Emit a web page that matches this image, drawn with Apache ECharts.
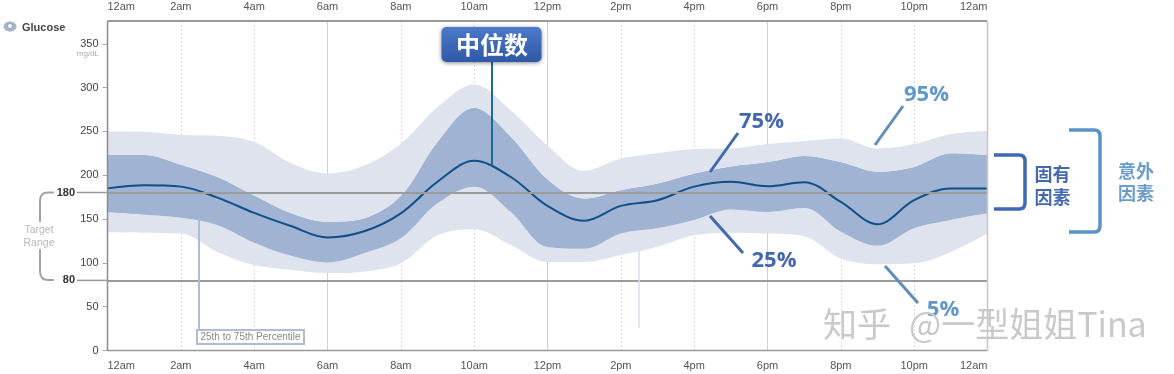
<!DOCTYPE html>
<html>
<head>
<meta charset="utf-8">
<style>
  html, body { margin: 0; padding: 0; background: #fff; }
  #chart { width: 1174px; height: 374px; }
</style>
<script src="https://cdn.jsdelivr.net/npm/echarts@6/dist/echarts.min.js"></script>
</head>
<body>
<div id="chart"></div>
<script>
var hours = [0,1,2,3,4,5,6,7,8,9,10,11,12,13,14,15,16,17,18,19,20,21,22,23,24];
var p95 = [250,249.5,246,245,238,214,202,211,236,277.5,303.5,274,234,205,219,225,230,230.5,235.5,239,242,230.5,235.5,247,250.5];
var p75 = [223,223,212,198,177,157,147,151,176.5,238,277,244,195.5,173.5,183,190.5,202,210,215,222,215,204,209.5,225,223];
var median = [185,188.5,187,174.5,157,142,129,136,156.5,192.5,216.5,198,165,148,165,171.5,187,192.5,187.5,192,169.5,144,171.5,185,185];
var p25 = [157.5,155,151.5,143,123,108,100.5,111,128,168,187,158,118,116,133.5,139.5,149,161,158,162.5,135.5,119.5,139.5,149,156.5];
var p5 = [135,134.5,133.5,112.5,97.5,92,88.5,90,99.5,131.5,138.5,120.5,101,101,109,118.5,131.5,134.5,133.5,130.5,105,98.5,99.5,112.5,133.5];

var xTicks = [0,2,4,6,8,10,12,14,16,18,20,22,24];
var xTickLabels = ['12am','2am','4am','6am','8am','10am','12pm','2pm','4pm','6pm','8pm','10pm','12am'];
var yTicks = [0,50,100,150,200,250,300,350];
var dottedHours = [2,4,8,10,14,16,20,22];
var solidHours = [6,12,18];
var targets = [180,80];

var LIGHT = '#dfe3ee', MID = '#a1b3d3', DARK = '#0f4f88';
var BLUE = '#4468b0', SKY = '#5f97cb';

var myChart = echarts.init(document.getElementById('chart'));

function diff(top, bottom) {
  return top.map(function (v, i) { return v - bottom[i]; });
}
function band(name, data, color) {
  return {
    name: name, type: 'line', stack: 'range', data: data, z: 2,
    smooth: 0.35, symbol: 'none', silent: true,
    lineStyle: { width: 0 },
    areaStyle: { color: color, opacity: 1 }
  };
}
function xAxis(pos) {
  return {
    type: 'category', position: pos, data: hours, boundaryGap: false,
    axisLine: { show: false },
    axisTick: { show: false },
    splitLine: { show: false },
    axisLabel: {
      interval: 1, showMinLabel: true, showMaxLabel: true,
      color: '#555', fontSize: 11, margin: pos == 'top' ? 9 : 10,
      fontFamily: 'Liberation Sans', alignMinLabel: 'left', alignMaxLabel: 'right',
      formatter: function (h) { return xTickLabels[xTicks.indexOf(Number(h))]; }
    }
  };
}
function line(x1, y1, x2, y2, color, width) {
  return { type: 'line', z: 10, silent: true, shape: { x1: x1, y1: y1, x2: x2, y2: y2 },
    style: { stroke: color, lineWidth: width } };
}
function curve(x1, y1, cx, cy, x2, y2, color, width) {
  return { type: 'bezierCurve', z: 10, silent: true,
    shape: { x1: x1, y1: y1, cpx1: cx, cpy1: cy, x2: x2, y2: y2 },
    style: { stroke: color, lineWidth: width, fill: null } };
}
function text(str, x, y, size, color, weight, align, family) {
  return { type: 'text', z: 11, silent: true, x: x, y: y,
    style: { text: str, fontSize: size, fill: color, fontWeight: weight || 'normal',
      align: align || 'center', verticalAlign: 'middle',
      fontFamily: family || 'Liberation Sans' } };
}
// square bracket opening to the left, rounded on the right side
function bracket(x1, x2, top, bottom, color, width) {
  var r = 6;
  return [
    line(x1, top, x2 - r, top, color, width),
    curve(x2 - r, top, x2, top, x2, top + r, color, width),
    line(x2, top + r, x2, bottom - r, color, width),
    curve(x2, bottom - r, x2, bottom, x2 - r, bottom, color, width),
    line(x2 - r, bottom, x1, bottom, color, width)
  ];
}

var option = {
  animation: false,
  backgroundColor: '#fff',
  grid: { left: 107.5, right: 186.5, top: 21, bottom: 23.5 },
  xAxis: [xAxis('bottom'), xAxis('top')],
  yAxis: {
    type: 'value', min: 0, max: 376,
    axisLine: { show: false },
    splitLine: { show: false },
    axisTick: { show: true, customValues: yTicks, length: 5, inside: false, lineStyle: { color: '#aaa' } },
    axisLabel: { customValues: yTicks, color: '#444', fontSize: 11, margin: 9, fontFamily: 'Liberation Sans' }
  },
  series: [
    {
      name: 'base', type: 'line', stack: 'range', data: p5, z: 1,
      smooth: 0.35, symbol: 'none', silent: true, lineStyle: { width: 0 },
      markLine: {
        silent: true, symbol: 'none', z: 1, animation: false, label: { show: false },
        data: dottedHours.map(function (h) {
          return { xAxis: h, lineStyle: { color: '#b4b4b4', type: [1, 3], width: 1 } };
        }).concat(solidHours.map(function (h) {
          return { xAxis: h, lineStyle: { color: '#d0d0d0', type: 'solid', width: 1 } };
        }))
      }
    },
    band('5-25', diff(p25, p5), LIGHT),
    band('25-75', diff(p75, p25), MID),
    band('75-95', diff(p95, p75), LIGHT),
    {
      name: 'median', type: 'line', data: median, z: 3,
      smooth: 0.35, symbol: 'none', silent: true,
      lineStyle: { color: DARK, width: 2 },
      markLine: {
        silent: true, symbol: 'none', z: 4, animation: false, label: { show: false },
        lineStyle: { color: '#9b9b9b', type: 'solid', width: 2 },
        data: targets.map(function (v) { return { yAxis: v }; })
      }
    }
  ],
  graphic: [
    // plot frame
    line(107.5, 21, 987, 21, '#999', 2),
    line(107.5, 21, 107.5, 351, '#8c8c8c', 1.5),
    line(107, 350.5, 987, 350.5, '#999', 1.5),
    line(987.5, 21, 987.5, 351, '#c6c6c6', 1.5),
    line(639, 248, 639, 328, '#d9deea', 1.5),

    // header on the left
    { type: 'ellipse', z: 10, silent: true, shape: { cx: 10, cy: 26.5, rx: 6.5, ry: 5 }, style: { fill: '#a8b6cd' } },
    { type: 'circle', z: 11, silent: true, shape: { cx: 10, cy: 26, r: 2.5 }, style: { fill: '#fff', stroke: '#8fa1bd', lineWidth: 1 } },
    text('Glucose', 22, 28, 11, '#444', 'bold', 'left'),
    text('mg/dL', 99, 54, 8, '#aaa', 'normal', 'right'),

    // target range
    line(77, 192.5, 108, 192.5, '#9b9b9b', 1.5),
    line(77, 280.4, 108, 280.4, '#9b9b9b', 1.5),
    text('180', 75, 192.5, 11, '#333', 'bold', 'right'),
    text('80', 75, 280.4, 11, '#333', 'bold', 'right'),
    line(54, 192.5, 48, 192.5, '#a3a3a3', 2),
    curve(48, 192.5, 40, 192.5, 40, 201, '#a3a3a3', 2),
    line(40, 201, 40, 222, '#a3a3a3', 2),
    line(54, 280, 48, 280, '#a3a3a3', 2),
    curve(48, 280, 40, 280, 40, 271, '#a3a3a3', 2),
    line(40, 271, 40, 249, '#a3a3a3', 2),
    text('Target', 39, 230, 10.5, '#b8b8b8'),
    text('Range', 39, 243, 10.5, '#b8b8b8'),

    // percentile box
    line(199, 218, 199, 330, '#aebdd6', 2),
    { type: 'rect', z: 10, silent: true, shape: { x: 197, y: 330, width: 107, height: 14 },
      style: { fill: '#fff', stroke: '#aebdd6', lineWidth: 2 } },
    text('25th to 75th Percentile', 250.5, 337.5, 10, '#888'),

    // median callout
    line(492, 60, 492, 166, '#1d6a97', 2),
    { type: 'rect', z: 10, silent: true, shape: { x: 441.5, y: 27, width: 100, height: 35, r: 5 },
      style: {
        fill: { type: 'linear', x: 0, y: 0, x2: 0, y2: 1,
          colorStops: [{ offset: 0, color: '#4d79ca' }, { offset: 1, color: '#2f59a6' }] },
        shadowColor: 'rgba(0,0,0,0.45)', shadowBlur: 4, shadowOffsetY: 1
      } },
    text('中位数', 492, 44.5, 24, '#fff', 'bold', 'center', 'Noto Sans CJK SC'),

    // percentile callouts
    line(738, 133, 710, 172, BLUE, 3),
    text('75%', 761.5, 122, 22, BLUE, 'bold', 'center', 'Open Sans'),
    line(903, 106, 875, 145, '#5f8fb8', 3),
    text('95%', 926.5, 95, 22, SKY, 'bold', 'center', 'Open Sans'),
    line(710, 216, 743, 253, BLUE, 3),
    text('25%', 774, 261, 22, BLUE, 'bold', 'center', 'Open Sans'),
    line(885, 266, 918, 303, '#5f8fb8', 3),
    text('5%', 943, 310, 22, SKY, 'bold', 'center', 'Open Sans'),

    // brackets on the right
    text('固有', 1052.5, 174, 18, BLUE, 'bold', 'center', 'Noto Sans CJK SC'),
    text('因素', 1052.5, 197, 18, BLUE, 'bold', 'center', 'Noto Sans CJK SC'),
    text('意外', 1136, 171.5, 18, '#6b9bcb', 'bold', 'center', 'Noto Sans CJK SC'),
    text('因素', 1136, 193.5, 18, '#6b9bcb', 'bold', 'center', 'Noto Sans CJK SC'),

    // watermark
    text('知乎', 823, 324, 34, '#c9c9c9', 'normal', 'left', 'Noto Sans CJK SC'),
    text('@一型姐姐Tina', 909, 324, 34, '#c9c9c9', 'normal', 'left', 'Noto Sans CJK SC')
  ].concat(bracket(994, 1025, 155, 209, '#3f68b4', 3.5), bracket(1069, 1100, 130, 232, '#5b93c9', 3.5))
};

myChart.setOption(option);
</script>
</body>
</html>
